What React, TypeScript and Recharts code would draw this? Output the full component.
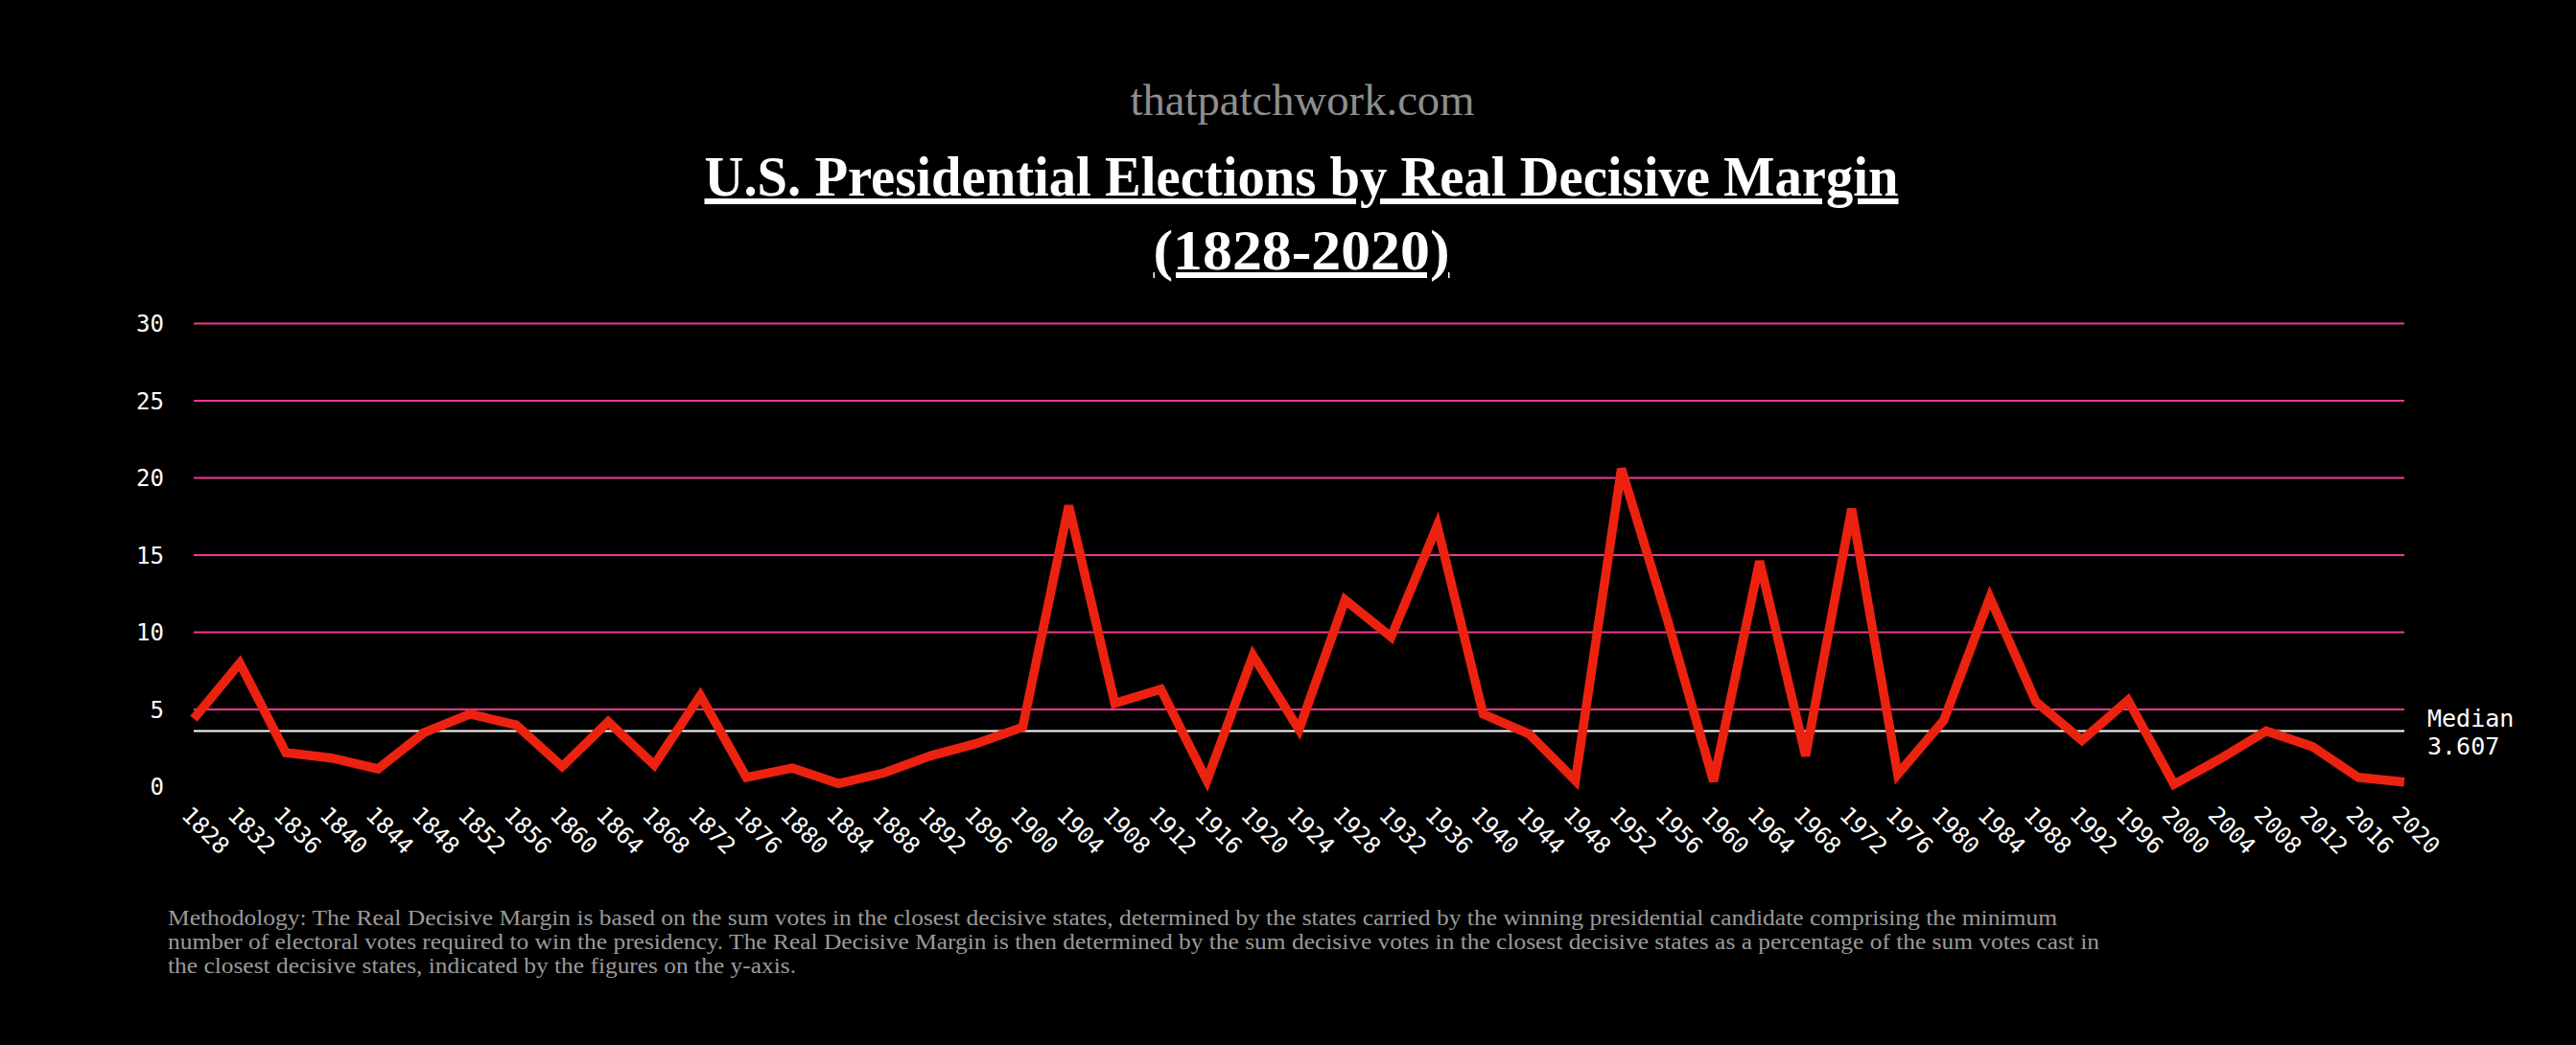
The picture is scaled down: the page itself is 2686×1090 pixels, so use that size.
import React from 'react';
import { LineChart, Line, XAxis, YAxis, ReferenceLine } from 'recharts';

// Election years on the x-axis
const years = [
  1828, 1832, 1836, 1840, 1844, 1848, 1852, 1856, 1860, 1864, 1868, 1872, 1876,
  1880, 1884, 1888, 1892, 1896, 1900, 1904, 1908, 1912, 1916, 1920, 1924, 1928,
  1932, 1936, 1940, 1944, 1948, 1952, 1956, 1960, 1964, 1968, 1972, 1976, 1980,
  1984, 1988, 1992, 1996, 2000, 2004, 2008, 2012, 2016, 2020,
];

// Real Decisive Margin (%) for each election
const margins = [
  4.4, 8.0, 2.2, 1.85, 1.15, 3.5, 4.7, 4.0, 1.3, 4.2, 1.4, 5.9, 0.6,
  1.2, 0.2, 0.9, 2.0, 2.8, 3.85, 18.2, 5.4, 6.3, 0.4, 8.5, 3.7, 12.1,
  9.7, 16.9, 4.7, 3.4, 0.4, 20.6, 10.8, 0.35, 14.6, 2.0, 18.0, 0.8, 4.3,
  12.25, 5.5, 3.0, 5.6, 0.15, 1.8, 3.6, 2.6, 0.6, 0.3,
];

const yTicks = [0, 5, 10, 15, 20, 25, 30];
const gridValues = [5, 10, 15, 20, 25, 30];
const MEDIAN = 3.607;

const siteName = 'thatpatchwork.com';
const titleLines = ['U.S. Presidential Elections by Real Decisive Margin', '(1828-2020)'];
const methodologyLines = [
  'Methodology: The Real Decisive Margin is based on the sum votes in the closest decisive states, determined by the states carried by the winning presidential candidate comprising the minimum',
  'number of electoral votes required to win the presidency. The Real Decisive Margin is then determined by the sum decisive votes in the closest decisive states as a percentage of the sum votes cast in',
  'the closest decisive states, indicated by the figures on the y-axis.',
];

const data = years.map((year, i) => ({ year: String(year), margin: margins[i] }));

const MONO = '"DejaVu Sans Mono", monospace';
const SERIF = '"Liberation Serif", "DejaVu Serif", serif';
const GRID_PINK = '#f2388f';
const LINE_RED = '#ec2211';

const YearTick = (props: any) => {
  const { x, y, payload } = props;
  const ax = x - 14;
  const ay = y + 31;
  return (
    <text
      x={ax}
      y={ay}
      transform={`rotate(45 ${ax} ${ay})`}
      fill="#ffffff"
      fontSize={24}
      fontFamily={MONO}
      textAnchor="start"
    >
      {payload.value}
    </text>
  );
};

const MedianLabel = (props: any) => {
  const vb = props.viewBox || {};
  const x = vb.x + vb.width + 24;
  const y = vb.y;
  return (
    <g>
      <text x={x} y={y - 4} fill="#ffffff" fontSize={25} fontFamily={MONO}>
        Median
      </text>
      <text x={x} y={y + 24.5} fill="#ffffff" fontSize={25} fontFamily={MONO}>
        {MEDIAN.toFixed(3)}
      </text>
    </g>
  );
};

export default function App() {
  return (
    <div
      style={{
        position: 'absolute',
        left: 0,
        top: 0,
        width: 2686,
        height: 1090,
        background: '#000000',
        overflow: 'hidden',
      }}
    >
      <div style={{ position: 'absolute', left: 0, top: 0 }}>
        <LineChart
          width={2686}
          height={1090}
          data={data}
          margin={{ top: 337.5, right: 179, bottom: 239.5, left: 0 }}
        >
          <XAxis
            dataKey="year"
            interval={0}
            height={30}
            axisLine={false}
            tickLine={false}
            tickSize={0}
            tickMargin={0}
            tick={<YearTick />}
          />
          <YAxis
            domain={[0, 30]}
            ticks={yTicks}
            width={202}
            axisLine={false}
            tickLine={false}
            tickSize={0}
            tickMargin={31}
            tick={{ fill: '#ffffff', fontSize: 24, fontFamily: MONO }}
          />
          {gridValues.map((v) => (
            <ReferenceLine key={v} y={v} stroke={GRID_PINK} strokeWidth={2} />
          ))}
          <ReferenceLine y={MEDIAN} stroke="#ffffff" strokeWidth={2} label={<MedianLabel />} />
          <Line
            type="linear"
            dataKey="margin"
            stroke={LINE_RED}
            strokeWidth={9.5}
            dot={false}
            activeDot={false}
            isAnimationActive={false}
          />
        </LineChart>
      </div>
      <svg
        width={2686}
        height={1090}
        style={{ position: 'absolute', left: 0, top: 0, pointerEvents: 'none' }}
      >
        <text
          x={1358}
          y={120}
          textAnchor="middle"
          fill="#8e8e8e"
          fontFamily={SERIF}
          fontSize={46}
          textLength={359}
          lengthAdjust="spacingAndGlyphs"
        >
          {siteName}
        </text>
        <text
          x={1357}
          y={204}
          textAnchor="middle"
          fill="#ffffff"
          fontFamily={SERIF}
          fontWeight="bold"
          fontSize={60}
          textLength={1245}
          lengthAdjust="spacingAndGlyphs"
          textDecoration="underline"
        >
          {titleLines[0]}
        </text>
        <text
          x={1357}
          y={281}
          textAnchor="middle"
          fill="#ffffff"
          fontFamily={SERIF}
          fontWeight="bold"
          fontSize={60}
          textLength={309}
          lengthAdjust="spacingAndGlyphs"
          textDecoration="underline"
        >
          {titleLines[1]}
        </text>
        {methodologyLines.map((line, i) => (
          <text
            key={i}
            x={175}
            y={965 + i * 25}
            fill="#9a9a9a"
            fontFamily={SERIF}
            fontSize={24}
            textLength={[1970, 2014, 655][i]}
            lengthAdjust="spacingAndGlyphs"
          >
            {line}
          </text>
        ))}
      </svg>
    </div>
  );
}
